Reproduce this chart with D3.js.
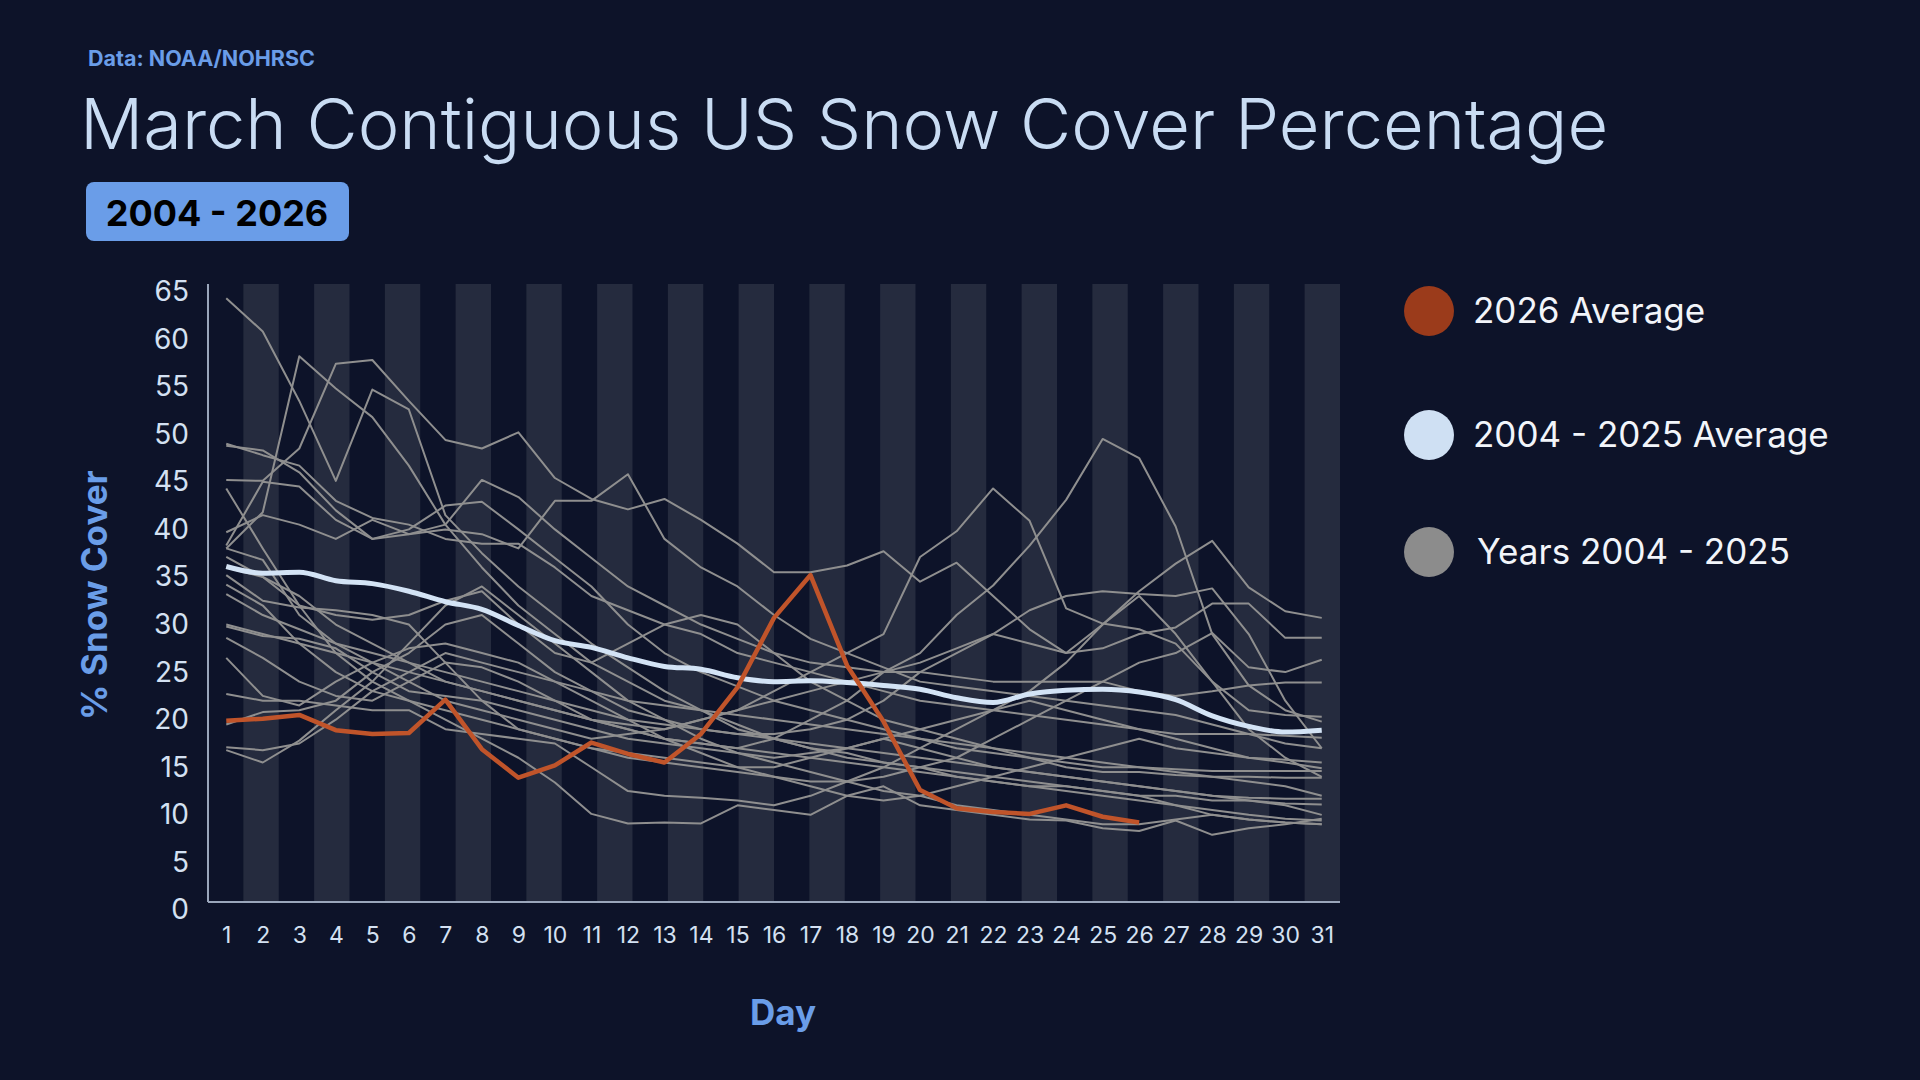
<!DOCTYPE html>
<html>
<head>
<meta charset="utf-8">
<script src="https://cdn.jsdelivr.net/npm/d3@7"></script>
<style>
  body { margin: 0; background: #0d1329; }
  svg text { font-family: Inter, "Noto Sans", sans-serif; }
</style>
</head>
<body>
<svg id="chart" width="1920" height="1080"></svg>
<script>
// March days and y ticks
const days = [1,2,3,4,5,6,7,8,9,10,11,12,13,14,15,16,17,18,19,20,21,22,23,24,25,26,27,28,29,30,31];
const yTicks = [0,5,10,15,20,25,30,35,40,45,50,55,60,65];

// 2026 daily average (through the 26th)
const current = [19.9,20.1,20.5,18.9,18.5,18.6,22.1,16.9,13.9,15.2,17.6,16.4,15.5,18.5,23.4,30.7,35.2,25.7,19.8,12.6,10.7,10.3,10.1,11.0,9.8,9.2];

// 2004 - 2025 average
const average = [36.1,35.4,35.5,34.6,34.3,33.5,32.4,31.6,29.9,28.3,27.6,26.5,25.6,25.3,24.4,24.0,24.1,23.9,23.6,23.2,22.3,21.8,22.7,23.1,23.2,22.9,22.1,20.4,19.3,18.7,18.9];

// individual years 2004 - 2025 (approximate)
const years = [
  [64.3,60.8,53.5,45.1,54.7,52.6,41.5,37.5,34,31,28,25.5,23,21,19.5,18,17,16.5,15.5,15,14.5,14,13.5,13,12.5,12,11,10,9.5,9.2,9.0],
  [38.0,41.8,58.2,54.8,51.8,46.7,40.5,36,32,29,26,24,22,21,19,18,17,16,15.5,15,14,13.5,13,13,12.5,12,12,11.5,11.5,11.2,11.1],
  [45.2,45.1,48.5,57.4,57.8,53.5,49.4,48.5,50.2,45.4,43.2,42.1,43.2,41.0,38.5,35.5,35.5,36.2,37.7,34.5,36.5,33,29.5,27,30,33.5,36.4,38.8,33.9,31.4,30.7],
  [49.0,47.8,46.7,43.0,41.2,40.5,39.0,38.5,38.5,36,33,31.5,30,29,27,26,25,24,23,22,21.5,21,20.5,20,19.5,19,18.5,18.5,18.5,18.3,18.1],
  [48.8,48.3,46,42,39,39.5,40,39.5,38,43,43,45.8,39,36,34,31,28.5,27,25.5,24,23.5,23,22.5,22,21.5,21,20.5,19.5,18.5,17.5,17],
  [44.3,38,32,27,24,22,20,18,16,13.4,10.1,9.1,9.2,9.1,11,10.5,10,12,13,11,10.5,10,9.5,9.4,8.6,8.3,9.4,7.9,8.6,9.0,9.6],
  [39.7,41.5,40.5,39,41,39.5,40.5,45.2,43.4,40,37,34,32,30,28.5,27,26,25.5,25,25,24.5,24,24,24,24,23,22.5,23,23.6,23.9,23.9],
  [38.3,45,44.5,41,39,40,42.5,42.9,40,37,34,30,27,25,23.5,22,21,20,19,18,17,16.5,16,15.5,15,15,14.8,14.6,14.6,14.6,14.6],
  [38.0,36.8,31,28,26,24,22,21,20,19,18,18.5,19,20,21,22,23,24,25,26,27.5,29,28,27,27.5,29,29.7,32.2,32.2,28.6,28.6],
  [37.1,35,32,31,30.5,31,32.5,33.5,30,27,26,28,30,31,30,27,24,22,20,19,18,17,16,15,14.5,14.5,14.2,14,14,13.9,13.9],
  [35.2,32.5,31.8,31.5,31,30,26,22,19,18,17,16.5,16,15.5,15,15,16,17,18,17,16,15,14.5,14,13.5,13,12.5,12,11.8,11.7,11.7],
  [34.2,32,28,25,23,22,21,20,19,18,17,16,15.5,15,14.5,14,13.5,13.5,14,15,16,18,20,22,24,26,27,29.1,25.5,25,26.3],
  [33.2,31,29.5,28,27,26,25,24,23,22,21,20,19.5,19,18.5,18.5,19,20,22,25,27,29,31.5,33,33.5,33.2,33,33.8,29,22,17],
  [29.8,28.8,28.5,27.5,25,23,22.5,22,21,20,19,18,17.5,17,16.5,16,16.5,17,18,19,20,21,22,21,20,19,18,17,16,15.5,14.9],
  [28.6,26.5,24,22.5,22,24,26,25.5,24,22,20,19,18,17.5,17,16.5,16,15.5,15,14.5,14,13.5,13,12.5,12,11.5,11,10.5,10,9.6,9.4],
  [26.5,22.5,21.5,24,26,27.5,28,27,26,24,22,20,18,16.5,15,14,13,12,11.5,12,13,14,15,16,17,18,17,16.5,16,15.8,15.5],
  [22.7,22.0,22,21.5,21,21,19,18.5,18,17.5,15,12.5,12.0,11.8,11.5,11,12,13.5,15,17,19,21,23,26,30,33,29,24,19,16,14],
  [19.5,20.8,21,22,25,27,30,31,28,25,23,21,20,19,18.5,18,17.5,17,16.5,16,15.5,15,14.5,14,13.5,13,12.5,12,11.5,11,10],
  [17.1,16.8,17.5,20,23,25,27,26,25,24,23,22,21.5,21,20.5,20,19.5,19,18.5,18,17.5,17,16.5,16,15.5,15,14.5,14,13.5,13,12],
  [16.8,15.5,17.8,21,24,28,32,34,31,28,25,22,20,18,16.5,15.5,14.5,13.5,12.5,12,11,10.5,10,9.5,9,9,9.5,10,9.5,9.2,9.0],
  [36,35,33,30,28,26,24,23,22,21,20,19,18,17.5,17,18,20,22,25,27,31,34.1,38.3,43.1,49.5,47.5,40.3,29,23.6,21,19.8],
  [30,29,28,27,26,25,24,23,22,21,20,19.5,19,20,21,23,25,27,29,37.1,39.8,44.3,40.9,31.7,30.1,29.5,28,24,21,20.5,20.3]
];

const legendItems = ["2026 Average", "2004 - 2025 Average", "Years 2004 - 2025"];
const legendColors = ["#9b3b1b", "#cfe0f3", "#8c8c8c"];

const svg = d3.select("#chart");
const W = 1920, H = 1080;

svg.append("rect").attr("width", W).attr("height", H).attr("fill", "#0d1329");

// header
svg.append("text")
  .attr("x", 88).attr("y", 66)
  .attr("fill", "#6a9de8")
  .style("font-size", "21.5px").style("font-weight", 700)
  .text("Data: NOAA/NOHRSC");

svg.append("text")
  .attr("x", 80).attr("y", 149)
  .attr("fill", "#c9dcf3")
  .style("font-size", "70.3px").style("font-weight", 300)
  .text("March Contiguous US Snow Cover Percentage");

svg.append("rect")
  .attr("x", 86).attr("y", 182).attr("width", 263).attr("height", 59)
  .attr("rx", 8).attr("fill", "#6a9de8");
svg.append("text")
  .attr("x", 217).attr("y", 226)
  .attr("text-anchor", "middle")
  .attr("fill", "#000")
  .style("font-size", "36px").style("font-weight", 700)
  .text("2004 - 2026");

// plot area
const plotLeft = 208, plotRight = 1340, plotTop = 284, plotBottom = 902;

const x = d3.scalePoint().domain(days).range([plotLeft, plotRight]).padding(0.5);
const y = d3.scaleLinear().domain([0, 65]).range([910, 291.5]);

// decorative stripes
const stripes = d3.scaleBand().domain(d3.range(32)).range([plotLeft, plotRight]);
svg.append("g")
  .selectAll("rect")
  .data(stripes.domain().filter(i => i % 2 === 1))
  .join("rect")
  .attr("x", d => stripes(d))
  .attr("y", plotTop)
  .attr("width", stripes.bandwidth())
  .attr("height", plotBottom - plotTop)
  .attr("fill", "#252b3e");

// axes
const yAxis = svg.append("g")
  .attr("transform", `translate(${plotLeft},0)`)
  .call(d3.axisLeft(y).tickValues(yTicks).tickSize(0).tickPadding(19));
yAxis.select(".domain").remove();
yAxis.selectAll("text")
  .attr("fill", "#d4e1f2")
  .style("font-size", "28px");

const xAxis = svg.append("g")
  .attr("transform", `translate(0,${plotBottom})`)
  .call(d3.axisBottom(x).tickSize(0).tickPadding(25));
xAxis.select(".domain").remove();
xAxis.selectAll("text")
  .attr("fill", "#d4e1f2")
  .style("font-size", "23px");

svg.append("line")
  .attr("x1", plotLeft).attr("x2", plotLeft).attr("y1", plotTop).attr("y2", plotBottom)
  .attr("stroke", "#9aa6bb").attr("stroke-width", 2);
svg.append("line")
  .attr("x1", plotLeft).attr("x2", plotRight).attr("y1", plotBottom).attr("y2", plotBottom)
  .attr("stroke", "#9aa6bb").attr("stroke-width", 2);

// axis titles
svg.append("text")
  .attr("transform", "translate(95,595) rotate(-90)")
  .attr("text-anchor", "middle")
  .attr("dy", "0.35em")
  .attr("fill", "#6a9de8")
  .style("font-size", "35px").style("font-weight", 700)
  .text("% Snow Cover");

svg.append("text")
  .attr("x", 783).attr("y", 1025)
  .attr("text-anchor", "middle")
  .attr("fill", "#6a9de8")
  .style("font-size", "35px").style("font-weight", 700)
  .text("Day");

// lines
const line = d3.line()
  .x((d, i) => x(days[i]))
  .y(d => y(d));

svg.append("g")
  .selectAll("path")
  .data(years)
  .join("path")
  .attr("d", line)
  .attr("fill", "none")
  .attr("stroke", "#8f8f8f")
  .attr("stroke-width", 2)
  .attr("stroke-linejoin", "round");

svg.append("path")
  .attr("d", d3.line().x((d, i) => x(days[i])).y(d => y(d)).curve(d3.curveMonotoneX)(average))
  .attr("fill", "none")
  .attr("stroke", "#d3e3f5")
  .attr("stroke-width", 5)
  .attr("stroke-linejoin", "round");

svg.append("path")
  .attr("d", line(current))
  .attr("fill", "none")
  .attr("stroke", "#c0542a")
  .attr("stroke-width", 4.5)
  .attr("stroke-linejoin", "round");

// legend
const legend = svg.append("g");
const legendY = [311, 435, 552];
legendItems.forEach((label, i) => {
  legend.append("circle")
    .attr("cx", 1429).attr("cy", legendY[i]).attr("r", 25)
    .attr("fill", legendColors[i]);
  legend.append("text")
    .attr("x", i === 2 ? 1477 : 1473).attr("y", legendY[i] + 12)
    .attr("fill", "#f2f5fa")
    .style("font-size", "35px")
    .text(label);
});
</script>
</body>
</html>
